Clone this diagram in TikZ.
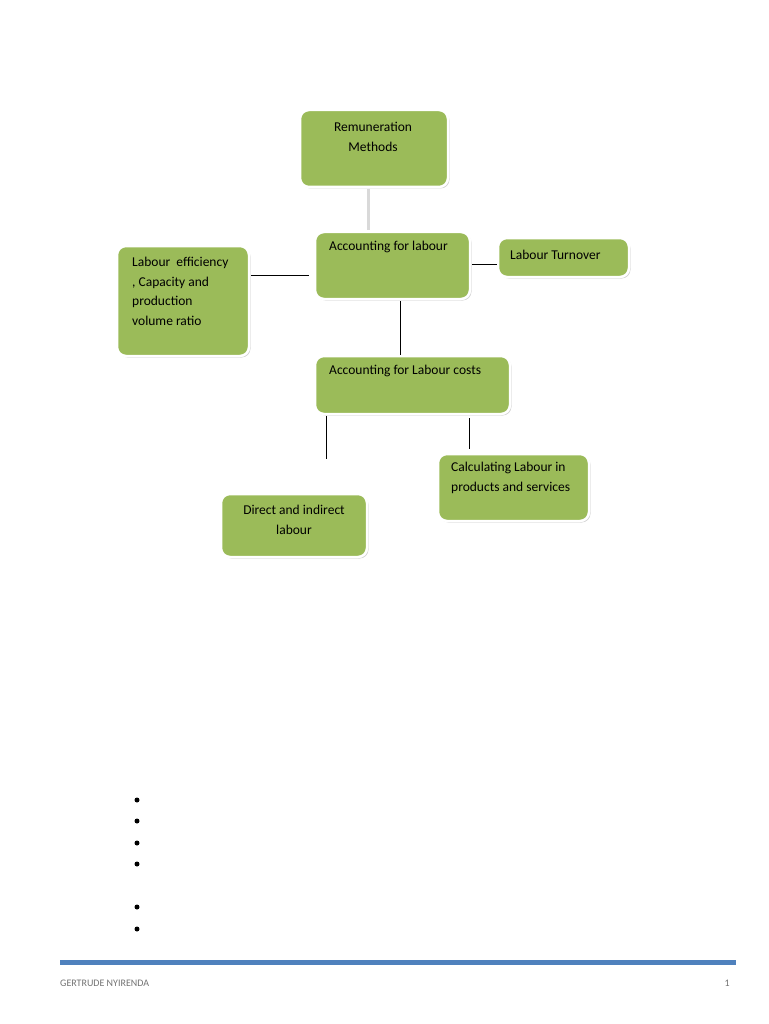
\documentclass[tikz,border=0pt]{standalone}
\usepackage{fontspec}
\setmainfont{Carlito}
\usetikzlibrary{shadows}
\definecolor{boxgreen}{HTML}{9BBB59}
\definecolor{footblue}{HTML}{4F81BD}
\begin{document}
\begin{tikzpicture}[x=1pt,y=-1pt,
  gbox/.style={draw=white,line width=2.5pt,fill=boxgreen,rounded corners=9pt,
    drop shadow={shadow xshift=1.5pt,shadow yshift=-1.5pt,fill=black!35}},
  txt/.style={font=\fontsize{13.5}{19.5}\selectfont,inner sep=0pt},
  conn/.style={draw=black,line width=0.6pt}]
\useasboundingbox[fill=white] (0,0) rectangle (768,1024);
\path[gbox] (300,110) rectangle (448,187) coordinate (rmb);
\node[txt,align=center] (rm) at (373,137) {Remuneration\\Methods};
\path[gbox] (315,232) rectangle (470,299);
\node[txt,anchor=north west] (al) at (329,241) {Accounting for labour};
\path[gbox] (498,238) rectangle (629,277);
\node[txt,anchor=west] (lt) at (510,255) {Labour Turnover};
\path[gbox] (117,246) rectangle (249,356);
\node[txt,anchor=north west,align=left] (le) at (132,257) {Labour\ \ efficiency\\, Capacity and\\production\\volume ratio};
\path[gbox] (315,356) rectangle (510,414);
\node[txt,anchor=north west] (alc) at (329,365) {Accounting for Labour costs};
\path[gbox] (438,454) rectangle (589,521);
\node[txt,anchor=north west,align=left] (cl) at (451,462) {Calculating Labour in\\products and services};
\path[gbox] (221,494) rectangle (367,557);
\node[txt,align=center] (di) at (294,520) {Direct and indirect\\labour};
\coordinate (a1) at (368,189); \coordinate (a2) at (368,230);
\draw[white!85!black,line width=3pt] (a1) -- (a2);
\coordinate (b1) at (251,275); \coordinate (b2) at (309,275);
\draw[conn] (b1) -- (b2);
\coordinate (c1) at (472,264); \coordinate (c2) at (497,264);
\draw[conn] (c1) -- (c2);
\coordinate (d1) at (400,301); \coordinate (d2) at (400,355);
\draw[conn] (d1) -- (d2);
\coordinate (e1) at (326,416); \coordinate (e2) at (326,459);
\draw[conn] (e1) -- (e2);
\coordinate (f1) at (469,418); \coordinate (f2) at (469,449);
\draw[conn] (f1) -- (f2);
\foreach \y in {800,821,843,864,907,929} \fill (137,\y) circle (2.5);
\fill[footblue] (60,959.5) rectangle (736,965);
\node[anchor=west,inner sep=0pt,text=black!55,font=\fontsize{10}{12}\selectfont] (ft) at (60,983) {GERTRUDE NYIRENDA};
\node[anchor=east,inner sep=0pt,text=black!55,font=\fontsize{10}{12}\selectfont] (pg) at (730,983) {1};
\end{tikzpicture}
\end{document}
